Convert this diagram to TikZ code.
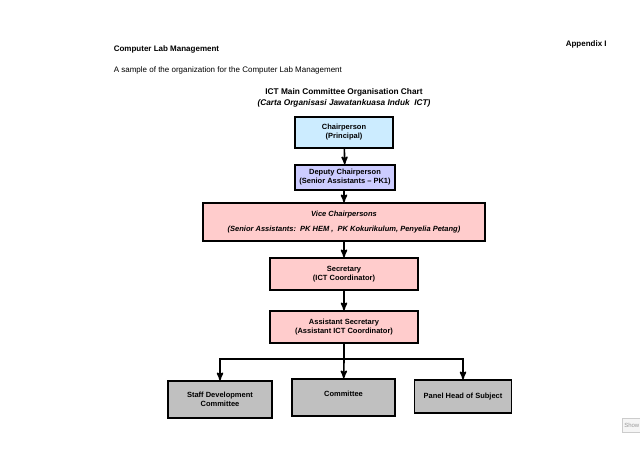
\documentclass[tikz,border=0pt]{standalone}
\usepackage{fontspec}
\setmainfont{Liberation Sans}
\usetikzlibrary{arrows}

\definecolor{chairblue}{RGB}{204,236,255}
\definecolor{deputyblue}{RGB}{204,204,255}
\definecolor{vicepink}{RGB}{255,204,204}
\definecolor{membergray}{RGB}{192,192,192}

\begin{document}
\begin{tikzpicture}[x=1pt,y=-1pt,>=stealth',line width=1.6pt,
                    box/.style={draw,line width=1.6pt,inner sep=0pt,align=center,
                                font=\fontsize{7.5}{9}\selectfont\bfseries},
                    head/.style={anchor=west,inner sep=0pt,font=\fontsize{8}{10}\selectfont}]
  \useasboundingbox (0,0) rectangle (640,453);
  % page header
  \node[head,font=\fontsize{8}{10}\selectfont\bfseries] (lab) at (113,49) {Computer Lab Management};
  \node[head] (sample) at (113,70) {A sample of the organization for the Computer Lab Management};
  \node[head,font=\fontsize{8}{10}\selectfont\bfseries] (appendix) at (565,44) {Appendix I};
  % chart title
  \node[inner sep=0pt,align=center,font=\fontsize{8.3}{11}\selectfont\bfseries] (title) at (344,98)
    {ICT Main Committee Organisation Chart\\\itshape (Carta Organisasi Jawatankuasa Induk\ \ ICT)};
  % committee boxes
  \node[box,fill=chairblue,minimum width=98,minimum height=31] (chair) at (344,132.5)
    {Chairperson\\(Principal)};
  \node[box,fill=deputyblue,minimum width=100,minimum height=25] (deputy) at (345,177.5)
    {Deputy Chairperson\\(Senior Assistants -- PK1)};
  \node[box,fill=vicepink,minimum width=282,minimum height=38] (vice) at (344,222)
    {\itshape Vice Chairpersons\\[6pt]\itshape (Senior Assistants:\ \ PK HEM ,\ \ PK Kokurikulum, Penyelia Petang)};
  \node[box,fill=vicepink,minimum width=148,minimum height=32] (secretary) at (344,274)
    {Secretary\\(ICT Coordinator)};
  \node[box,fill=vicepink,minimum width=148,minimum height=32] (asst) at (344,327)
    {Assistant Secretary\\(Assistant ICT Coordinator)};
  \node[box,fill=membergray,minimum width=104,minimum height=37] (staff) at (220,399.5)
    {Staff Development\\Committee};
  \node[box,fill=membergray,minimum width=103,minimum height=37,text depth=8pt] (committee) at (343.5,397.5)
    {Committee};
  \node[box,fill=membergray,minimum width=97,minimum height=33] (panel) at (463,396.5)
    {Panel Head of Subject};
  \coordinate (fork) at (344,359);
  % connectors
  \path[->]
    (chair) edge (deputy)
    (deputy.south -| vice.north) edge (vice)
    (vice) edge (secretary)
    (secretary) edge (asst)
    ;
  \draw (asst) -- (fork);
  \draw[->] (fork) -| (staff);
  \draw[->] (fork) -- (committee);
  \draw[->] (fork) -| (panel);
  % cut-off button at the edge
  \node[draw=gray!40,line width=0.6pt,fill=gray!8,text=gray!80,inner sep=2pt,minimum height=14,
        font=\fontsize{6}{7}\selectfont,anchor=west] (show) at (622,425) {Show};
\end{tikzpicture}
\end{document}
